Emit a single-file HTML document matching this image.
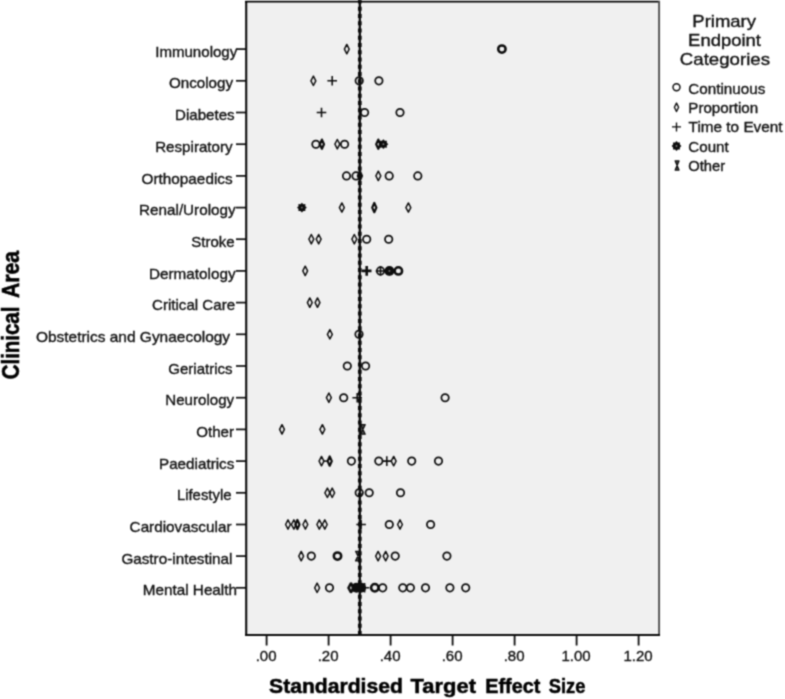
<!DOCTYPE html>
<html lang="en"><head><meta charset="utf-8"><title>Standardised Target Effect Size by Clinical Area</title>
<style>html,body{margin:0;padding:0;background:#fff}svg{display:block}text{font-family:"Liberation Sans",Arial,sans-serif;fill:#111;stroke:#111;stroke-width:0.35px}</style></head><body>
<svg width="785" height="699" viewBox="0 0 785 699">
<defs><filter id="soft" filterUnits="userSpaceOnUse" x="-10" y="-10" width="805" height="719" color-interpolation-filters="sRGB"><feConvolveMatrix order="3" kernelMatrix="0.13 0.36 0.13 0.36 1 0.36 0.13 0.36 0.13" divisor="2.96" edgeMode="duplicate" preserveAlpha="true"/></filter></defs>
<g filter="url(#soft)">
<rect x="-10" y="-10" width="805" height="719" fill="#fff"/>
<rect x="246.2" y="1.5" width="412.8" height="633.5" fill="#f0f0f0"/>
<path d="M246.2 0.9V636" stroke="#0d0d0d" stroke-width="2.1" fill="none"/>
<path d="M245 1.55H660" stroke="#000" stroke-width="1.7" fill="none"/>
<path d="M659.1 1V636" stroke="#505050" stroke-width="1.9" fill="none"/>
<path d="M245 635H660" stroke="#0d0d0d" stroke-width="2.1" fill="none"/>
<path d="M359.8 2V634" stroke="#0a0a0a" stroke-width="2.3" fill="none"/>
<path d="M359.8 -0.56V634" stroke="#0a0a0a" stroke-width="3.7" stroke-dasharray="4.0 3.26" fill="none"/>
<path d="M266.6 636V645.5" stroke="#0d0d0d" stroke-width="1.8" fill="none"/>
<text x="266.1" y="661.4" font-size="15" text-anchor="middle">.00</text>
<path d="M328.6 636V645.5" stroke="#0d0d0d" stroke-width="1.8" fill="none"/>
<text x="328.1" y="661.4" font-size="15" text-anchor="middle">.20</text>
<path d="M390.6 636V645.5" stroke="#0d0d0d" stroke-width="1.8" fill="none"/>
<text x="390.1" y="661.4" font-size="15" text-anchor="middle">.40</text>
<path d="M452.6 636V645.5" stroke="#0d0d0d" stroke-width="1.8" fill="none"/>
<text x="452.1" y="661.4" font-size="15" text-anchor="middle">.60</text>
<path d="M514.6 636V645.5" stroke="#0d0d0d" stroke-width="1.8" fill="none"/>
<text x="514.1" y="661.4" font-size="15" text-anchor="middle">.80</text>
<path d="M576.6 636V645.5" stroke="#0d0d0d" stroke-width="1.8" fill="none"/>
<text x="576.1" y="661.4" font-size="15" text-anchor="middle">1.00</text>
<path d="M638.6 636V645.5" stroke="#0d0d0d" stroke-width="1.8" fill="none"/>
<text x="638.1" y="661.4" font-size="15" text-anchor="middle">1.20</text>
<path d="M236 49.1H246" stroke="#0d0d0d" stroke-width="1.7" fill="none"/>
<text x="155.2" y="56.7" font-size="15" textLength="82.1" lengthAdjust="spacingAndGlyphs">Immunology</text>
<path d="M236 80.8H246" stroke="#0d0d0d" stroke-width="1.7" fill="none"/>
<text x="168.9" y="88.4" font-size="15" textLength="64.1" lengthAdjust="spacingAndGlyphs">Oncology</text>
<path d="M236 112.5H246" stroke="#0d0d0d" stroke-width="1.7" fill="none"/>
<text x="175.0" y="120.1" font-size="15" textLength="59.6" lengthAdjust="spacingAndGlyphs">Diabetes</text>
<path d="M236 144.2H246" stroke="#0d0d0d" stroke-width="1.7" fill="none"/>
<text x="155.2" y="151.8" font-size="15" textLength="77.4" lengthAdjust="spacingAndGlyphs">Respiratory</text>
<path d="M236 175.9H246" stroke="#0d0d0d" stroke-width="1.7" fill="none"/>
<text x="141.6" y="183.5" font-size="15" textLength="91.0" lengthAdjust="spacingAndGlyphs">Orthopaedics</text>
<path d="M236 207.6H246" stroke="#0d0d0d" stroke-width="1.7" fill="none"/>
<text x="139.1" y="215.2" font-size="15" textLength="96.5" lengthAdjust="spacingAndGlyphs">Renal/Urology</text>
<path d="M236 239.2H246" stroke="#0d0d0d" stroke-width="1.7" fill="none"/>
<text x="191.3" y="246.8" font-size="15" textLength="43.3" lengthAdjust="spacingAndGlyphs">Stroke</text>
<path d="M236 270.9H246" stroke="#0d0d0d" stroke-width="1.7" fill="none"/>
<text x="149.0" y="278.5" font-size="15" textLength="86.6" lengthAdjust="spacingAndGlyphs">Dermatology</text>
<path d="M236 302.6H246" stroke="#0d0d0d" stroke-width="1.7" fill="none"/>
<text x="152.0" y="310.2" font-size="15" textLength="83.1" lengthAdjust="spacingAndGlyphs">Critical Care</text>
<path d="M236 334.3H246" stroke="#0d0d0d" stroke-width="1.7" fill="none"/>
<text x="35.9" y="341.9" font-size="15" textLength="194.2" lengthAdjust="spacingAndGlyphs">Obstetrics and Gynaecology</text>
<path d="M236 366.0H246" stroke="#0d0d0d" stroke-width="1.7" fill="none"/>
<text x="168.3" y="373.6" font-size="15" textLength="64.2" lengthAdjust="spacingAndGlyphs">Geriatrics</text>
<path d="M236 397.7H246" stroke="#0d0d0d" stroke-width="1.7" fill="none"/>
<text x="165.3" y="405.3" font-size="15" textLength="68.8" lengthAdjust="spacingAndGlyphs">Neurology</text>
<path d="M236 429.4H246" stroke="#0d0d0d" stroke-width="1.7" fill="none"/>
<text x="196.2" y="437.0" font-size="15" textLength="37.8" lengthAdjust="spacingAndGlyphs">Other</text>
<path d="M236 461.1H246" stroke="#0d0d0d" stroke-width="1.7" fill="none"/>
<text x="159.0" y="468.7" font-size="15" textLength="75.3" lengthAdjust="spacingAndGlyphs">Paediatrics</text>
<path d="M236 492.8H246" stroke="#0d0d0d" stroke-width="1.7" fill="none"/>
<text x="176.9" y="500.4" font-size="15" textLength="54.6" lengthAdjust="spacingAndGlyphs">Lifestyle</text>
<path d="M236 524.5H246" stroke="#0d0d0d" stroke-width="1.7" fill="none"/>
<text x="129.6" y="532.1" font-size="15" textLength="101.9" lengthAdjust="spacingAndGlyphs">Cardiovascular</text>
<path d="M236 556.1H246" stroke="#0d0d0d" stroke-width="1.7" fill="none"/>
<text x="121.4" y="563.7" font-size="15" textLength="111.1" lengthAdjust="spacingAndGlyphs">Gastro-intestinal</text>
<path d="M236 587.8H246" stroke="#0d0d0d" stroke-width="1.7" fill="none"/>
<text x="142.8" y="595.4" font-size="15" textLength="94.2" lengthAdjust="spacingAndGlyphs">Mental Health</text>
<path d="M346.8 44.4L349.2 49.1L346.8 53.8L344.4 49.1Z" fill="none" stroke="#0d0d0d" stroke-width="1.45" stroke-linejoin="round"/>
<circle cx="501.9" cy="49.1" r="3.7" fill="none" stroke="#0d0d0d" stroke-width="2.5"/>
<path d="M313.4 76.1L315.8 80.8L313.4 85.5L310.9 80.8Z" fill="none" stroke="#0d0d0d" stroke-width="1.45" stroke-linejoin="round"/>
<path d="M327.4 80.8H337.0M332.2 76.0V85.6" fill="none" stroke="#0d0d0d" stroke-width="1.55"/>
<circle cx="359.2" cy="80.8" r="3.7" fill="none" stroke="#0d0d0d" stroke-width="1.75"/>
<circle cx="378.9" cy="80.8" r="3.7" fill="none" stroke="#0d0d0d" stroke-width="1.75"/>
<path d="M316.7 112.5H326.3M321.5 107.7V117.3" fill="none" stroke="#0d0d0d" stroke-width="1.55"/>
<circle cx="364.6" cy="112.5" r="3.7" fill="none" stroke="#0d0d0d" stroke-width="1.75"/>
<circle cx="400.0" cy="112.5" r="3.7" fill="none" stroke="#0d0d0d" stroke-width="1.75"/>
<circle cx="315.9" cy="144.2" r="3.7" fill="none" stroke="#0d0d0d" stroke-width="1.75"/>
<path d="M321.9 139.6L324.0 144.2L321.9 148.8L319.8 144.2Z" fill="none" stroke="#0d0d0d" stroke-width="2.2" stroke-linejoin="round"/>
<path d="M337.3 139.5L339.8 144.2L337.3 148.9L334.9 144.2Z" fill="none" stroke="#0d0d0d" stroke-width="1.45" stroke-linejoin="round"/>
<circle cx="344.6" cy="144.2" r="3.7" fill="none" stroke="#0d0d0d" stroke-width="1.75"/>
<path d="M378.3 139.6L380.4 144.2L378.3 148.8L376.2 144.2Z" fill="none" stroke="#0d0d0d" stroke-width="2.2" stroke-linejoin="round"/>
<polygon points="388.30,144.17 386.82,145.59 386.86,147.63 384.82,147.59 383.40,149.07 381.98,147.59 379.94,147.63 379.98,145.59 378.50,144.17 379.98,142.75 379.94,140.71 381.98,140.75 383.40,139.27 384.82,140.75 386.86,140.71 386.82,142.75" fill="#0d0d0d"/><circle cx="383.4" cy="144.2" r="0.9" fill="#808080"/>
<circle cx="346.5" cy="175.9" r="3.7" fill="none" stroke="#0d0d0d" stroke-width="1.75"/>
<circle cx="356.0" cy="175.9" r="3.7" fill="none" stroke="#0d0d0d" stroke-width="1.75"/>
<path d="M359.9 171.3L362.0 175.9L359.9 180.5L357.8 175.9Z" fill="none" stroke="#0d0d0d" stroke-width="2.2" stroke-linejoin="round"/>
<path d="M378.3 171.2L380.8 175.9L378.3 180.6L375.9 175.9Z" fill="none" stroke="#0d0d0d" stroke-width="1.45" stroke-linejoin="round"/>
<circle cx="389.2" cy="175.9" r="3.7" fill="none" stroke="#0d0d0d" stroke-width="1.75"/>
<circle cx="417.8" cy="175.9" r="3.7" fill="none" stroke="#0d0d0d" stroke-width="1.75"/>
<polygon points="306.80,207.55 305.32,208.97 305.36,211.01 303.32,210.97 301.90,212.45 300.48,210.97 298.44,211.01 298.48,208.97 297.00,207.55 298.48,206.13 298.44,204.09 300.48,204.13 301.90,202.65 303.32,204.13 305.36,204.09 305.32,206.13" fill="#0d0d0d"/><circle cx="301.9" cy="207.6" r="0.9" fill="#808080"/>
<path d="M341.9 202.9L344.3 207.6L341.9 212.2L339.4 207.6Z" fill="none" stroke="#0d0d0d" stroke-width="1.45" stroke-linejoin="round"/>
<path d="M374.3 203.0L376.4 207.6L374.3 212.2L372.2 207.6Z" fill="none" stroke="#0d0d0d" stroke-width="2.2" stroke-linejoin="round"/>
<path d="M408.4 202.9L410.8 207.6L408.4 212.2L405.9 207.6Z" fill="none" stroke="#0d0d0d" stroke-width="1.45" stroke-linejoin="round"/>
<path d="M311.3 234.5L313.8 239.2L311.3 243.9L308.9 239.2Z" fill="none" stroke="#0d0d0d" stroke-width="1.45" stroke-linejoin="round"/>
<path d="M318.7 234.5L321.1 239.2L318.7 243.9L316.2 239.2Z" fill="none" stroke="#0d0d0d" stroke-width="1.45" stroke-linejoin="round"/>
<path d="M354.3 234.5L356.8 239.2L354.3 243.9L351.9 239.2Z" fill="none" stroke="#0d0d0d" stroke-width="1.45" stroke-linejoin="round"/>
<circle cx="366.7" cy="239.2" r="3.7" fill="none" stroke="#0d0d0d" stroke-width="1.75"/>
<circle cx="388.7" cy="239.2" r="3.7" fill="none" stroke="#0d0d0d" stroke-width="1.75"/>
<path d="M305.2 266.2L307.6 270.9L305.2 275.6L302.8 270.9Z" fill="none" stroke="#0d0d0d" stroke-width="1.45" stroke-linejoin="round"/>
<path d="M361.9 270.9H371.5M366.7 266.1V275.7" fill="none" stroke="#0d0d0d" stroke-width="2.6"/>
<circle cx="380.5" cy="270.9" r="3.7" fill="none" stroke="#0d0d0d" stroke-width="1.75"/>
<path d="M375.7 270.9H385.3M380.5 266.1V275.7" fill="none" stroke="#0d0d0d" stroke-width="1.55"/>
<circle cx="389.4" cy="270.9" r="3.7" fill="none" stroke="#0d0d0d" stroke-width="2.5"/>
<polygon points="394.30,270.93 392.82,272.35 392.86,274.39 390.82,274.35 389.40,275.83 387.98,274.35 385.94,274.39 385.98,272.35 384.50,270.93 385.98,269.51 385.94,267.47 387.98,267.51 389.40,266.03 390.82,267.51 392.86,267.47 392.82,269.51" fill="#0d0d0d"/><circle cx="389.4" cy="270.9" r="0.9" fill="#808080"/>
<circle cx="398.4" cy="270.9" r="3.7" fill="none" stroke="#0d0d0d" stroke-width="2.5"/>
<path d="M309.8 297.9L312.2 302.6L309.8 307.3L307.4 302.6Z" fill="none" stroke="#0d0d0d" stroke-width="1.45" stroke-linejoin="round"/>
<path d="M317.5 297.9L319.9 302.6L317.5 307.3L315.1 302.6Z" fill="none" stroke="#0d0d0d" stroke-width="1.45" stroke-linejoin="round"/>
<path d="M329.9 329.6L332.3 334.3L329.9 339.0L327.4 334.3Z" fill="none" stroke="#0d0d0d" stroke-width="1.45" stroke-linejoin="round"/>
<circle cx="359.0" cy="334.3" r="3.7" fill="none" stroke="#0d0d0d" stroke-width="1.75"/>
<circle cx="347.3" cy="366.0" r="3.7" fill="none" stroke="#0d0d0d" stroke-width="1.75"/>
<circle cx="365.6" cy="366.0" r="3.7" fill="none" stroke="#0d0d0d" stroke-width="1.75"/>
<path d="M328.9 393.0L331.3 397.7L328.9 402.4L326.4 397.7Z" fill="none" stroke="#0d0d0d" stroke-width="1.45" stroke-linejoin="round"/>
<circle cx="343.7" cy="397.7" r="3.7" fill="none" stroke="#0d0d0d" stroke-width="1.75"/>
<path d="M352.4 397.7H362.0M357.2 392.9V402.5" fill="none" stroke="#0d0d0d" stroke-width="1.55"/>
<circle cx="445.1" cy="397.7" r="3.7" fill="none" stroke="#0d0d0d" stroke-width="1.75"/>
<path d="M282.0 424.7L284.4 429.4L282.0 434.1L279.6 429.4Z" fill="none" stroke="#0d0d0d" stroke-width="1.45" stroke-linejoin="round"/>
<path d="M322.4 424.7L324.8 429.4L322.4 434.1L319.9 429.4Z" fill="none" stroke="#0d0d0d" stroke-width="1.45" stroke-linejoin="round"/>
<path d="M360.6 424.6H365.2L360.6 434.2H365.2Z" fill="#0d0d0d" fill-opacity="0.65" stroke="#0d0d0d" stroke-width="1.3" stroke-linejoin="round"/>
<path d="M321.5 456.4L323.9 461.1L321.5 465.8L319.1 461.1Z" fill="none" stroke="#0d0d0d" stroke-width="1.45" stroke-linejoin="round"/>
<path d="M329.7 456.5L331.8 461.1L329.7 465.7L327.6 461.1Z" fill="none" stroke="#0d0d0d" stroke-width="2.2" stroke-linejoin="round"/>
<path d="M323.9 461.1H327.7" stroke="#0d0d0d" stroke-width="1.5" fill="none"/>
<circle cx="351.4" cy="461.1" r="3.7" fill="none" stroke="#0d0d0d" stroke-width="1.75"/>
<circle cx="378.8" cy="461.1" r="3.7" fill="none" stroke="#0d0d0d" stroke-width="1.75"/>
<path d="M382.0 461.1H391.6M386.8 456.3V465.9" fill="none" stroke="#0d0d0d" stroke-width="1.55"/>
<path d="M393.7 456.4L396.1 461.1L393.7 465.8L391.2 461.1Z" fill="none" stroke="#0d0d0d" stroke-width="1.45" stroke-linejoin="round"/>
<circle cx="411.7" cy="461.1" r="3.7" fill="none" stroke="#0d0d0d" stroke-width="1.75"/>
<circle cx="438.5" cy="461.1" r="3.7" fill="none" stroke="#0d0d0d" stroke-width="1.75"/>
<path d="M327.4 488.1L329.8 492.8L327.4 497.5L324.9 492.8Z" fill="none" stroke="#0d0d0d" stroke-width="1.45" stroke-linejoin="round"/>
<path d="M332.2 488.1L334.6 492.8L332.2 497.5L329.8 492.8Z" fill="none" stroke="#0d0d0d" stroke-width="1.45" stroke-linejoin="round"/>
<circle cx="359.2" cy="492.8" r="3.7" fill="none" stroke="#0d0d0d" stroke-width="1.75"/>
<circle cx="369.2" cy="492.8" r="3.7" fill="none" stroke="#0d0d0d" stroke-width="1.75"/>
<circle cx="400.5" cy="492.8" r="3.7" fill="none" stroke="#0d0d0d" stroke-width="1.75"/>
<path d="M288.0 519.8L290.4 524.5L288.0 529.2L285.6 524.5Z" fill="none" stroke="#0d0d0d" stroke-width="1.45" stroke-linejoin="round"/>
<path d="M293.9 519.8L296.3 524.5L293.9 529.2L291.4 524.5Z" fill="none" stroke="#0d0d0d" stroke-width="1.45" stroke-linejoin="round"/>
<path d="M297.4 519.9L299.5 524.5L297.4 529.1L295.3 524.5Z" fill="none" stroke="#0d0d0d" stroke-width="2.2" stroke-linejoin="round"/>
<path d="M305.4 519.8L307.8 524.5L305.4 529.2L302.9 524.5Z" fill="none" stroke="#0d0d0d" stroke-width="1.45" stroke-linejoin="round"/>
<path d="M319.3 519.8L321.8 524.5L319.3 529.2L316.9 524.5Z" fill="none" stroke="#0d0d0d" stroke-width="1.45" stroke-linejoin="round"/>
<path d="M324.8 519.8L327.2 524.5L324.8 529.2L322.4 524.5Z" fill="none" stroke="#0d0d0d" stroke-width="1.45" stroke-linejoin="round"/>
<path d="M356.3 524.5H365.9M361.1 519.7V529.2" fill="none" stroke="#0d0d0d" stroke-width="1.55"/>
<circle cx="389.3" cy="524.5" r="3.7" fill="none" stroke="#0d0d0d" stroke-width="1.75"/>
<path d="M400.0 519.8L402.4 524.5L400.0 529.2L397.6 524.5Z" fill="none" stroke="#0d0d0d" stroke-width="1.45" stroke-linejoin="round"/>
<circle cx="430.6" cy="524.5" r="3.7" fill="none" stroke="#0d0d0d" stroke-width="1.75"/>
<path d="M301.2 551.4L303.6 556.1L301.2 560.8L298.8 556.1Z" fill="none" stroke="#0d0d0d" stroke-width="1.45" stroke-linejoin="round"/>
<circle cx="311.3" cy="556.1" r="3.7" fill="none" stroke="#0d0d0d" stroke-width="1.75"/>
<circle cx="337.5" cy="556.1" r="3.7" fill="none" stroke="#0d0d0d" stroke-width="2.5"/>
<path d="M355.6 551.3H360.2L355.6 560.9H360.2Z" fill="#0d0d0d" fill-opacity="0.65" stroke="#0d0d0d" stroke-width="1.3" stroke-linejoin="round"/>
<path d="M378.1 551.4L380.6 556.1L378.1 560.8L375.7 556.1Z" fill="none" stroke="#0d0d0d" stroke-width="1.45" stroke-linejoin="round"/>
<path d="M385.7 551.4L388.1 556.1L385.7 560.8L383.2 556.1Z" fill="none" stroke="#0d0d0d" stroke-width="1.45" stroke-linejoin="round"/>
<circle cx="395.2" cy="556.1" r="3.7" fill="none" stroke="#0d0d0d" stroke-width="1.75"/>
<circle cx="446.9" cy="556.1" r="3.7" fill="none" stroke="#0d0d0d" stroke-width="1.75"/>
<path d="M317.1 583.1L319.6 587.8L317.1 592.5L314.7 587.8Z" fill="none" stroke="#0d0d0d" stroke-width="1.45" stroke-linejoin="round"/>
<circle cx="329.5" cy="587.8" r="3.7" fill="none" stroke="#0d0d0d" stroke-width="1.75"/>
<path d="M350.4 583.1L352.8 587.8L350.4 592.5L347.9 587.8Z" fill="none" stroke="#0d0d0d" stroke-width="1.45" stroke-linejoin="round"/>
<path d="M351.6 583.1L354.1 587.8L351.6 592.5L349.2 587.8Z" fill="none" stroke="#0d0d0d" stroke-width="1.45" stroke-linejoin="round"/>
<circle cx="356.5" cy="587.8" r="3.7" fill="none" stroke="#0d0d0d" stroke-width="2.5"/>
<circle cx="361.0" cy="587.8" r="3.7" fill="none" stroke="#0d0d0d" stroke-width="2.5"/>
<path d="M359.8 587.8H369.4M364.6 583.0V592.6" fill="none" stroke="#0d0d0d" stroke-width="1.55"/>
<circle cx="374.8" cy="587.8" r="3.7" fill="none" stroke="#0d0d0d" stroke-width="2.5"/>
<circle cx="382.7" cy="587.8" r="3.7" fill="none" stroke="#0d0d0d" stroke-width="1.75"/>
<circle cx="402.8" cy="587.8" r="3.7" fill="none" stroke="#0d0d0d" stroke-width="1.75"/>
<circle cx="410.4" cy="587.8" r="3.7" fill="none" stroke="#0d0d0d" stroke-width="1.75"/>
<circle cx="425.5" cy="587.8" r="3.7" fill="none" stroke="#0d0d0d" stroke-width="1.75"/>
<circle cx="449.9" cy="587.8" r="3.7" fill="none" stroke="#0d0d0d" stroke-width="1.75"/>
<circle cx="465.7" cy="587.8" r="3.7" fill="none" stroke="#0d0d0d" stroke-width="1.75"/>
<rect x="353" y="583.5" width="12.2" height="8.6" rx="1.5" fill="#0d0d0d"/>
<text x="269.1" y="692.7" font-size="20.4" font-weight="bold" style="fill:#000;stroke:#000;stroke-width:0.5px" lengthAdjust="spacingAndGlyphs" textLength="133.8">Standardised</text>
<text x="410.6" y="692.7" font-size="20.4" font-weight="bold" style="fill:#000;stroke:#000;stroke-width:0.5px" lengthAdjust="spacingAndGlyphs" textLength="65.4">Target</text>
<text x="485.3" y="692.7" font-size="20.4" font-weight="bold" style="fill:#000;stroke:#000;stroke-width:0.5px" lengthAdjust="spacingAndGlyphs" textLength="55.0">Effect</text>
<text x="548.7" y="692.7" font-size="20.4" font-weight="bold" style="fill:#000;stroke:#000;stroke-width:0.5px" lengthAdjust="spacingAndGlyphs" textLength="36.7">Size</text>
<g transform="translate(19.4 0) rotate(-90) scale(1 1.15)">
<text x="-379.2" y="0" font-size="21.1" font-weight="bold" style="fill:#000;stroke:#000;stroke-width:0.5px" lengthAdjust="spacingAndGlyphs" textLength="72.5">Clinical</text>
<text x="-298.1" y="0" font-size="21.1" font-weight="bold" style="fill:#000;stroke:#000;stroke-width:0.5px" lengthAdjust="spacingAndGlyphs" textLength="47.1">Area</text>
</g>
<text x="692.3" y="26.5" font-size="17" textLength="63.7" lengthAdjust="spacingAndGlyphs">Primary</text>
<text x="688.1" y="46.4" font-size="17" textLength="72.9" lengthAdjust="spacingAndGlyphs">Endpoint</text>
<text x="679.8" y="64.9" font-size="17" textLength="90.2" lengthAdjust="spacingAndGlyphs">Categories</text>
<circle cx="676.5" cy="87.3" r="3.5" fill="none" stroke="#0d0d0d" stroke-width="1.45"/>
<text x="688.3" y="93.6" font-size="15" textLength="77.0" lengthAdjust="spacingAndGlyphs">Continuous</text>
<path d="M676.5 103.1L678.6 107.3L676.5 111.5L674.4 107.3Z" fill="none" stroke="#0d0d0d" stroke-width="1.4" stroke-linejoin="round"/>
<text x="688.3" y="112.8" font-size="15" textLength="69.8" lengthAdjust="spacingAndGlyphs">Proportion</text>
<path d="M672.0 126.9H681.0M676.5 122.4V131.4" fill="none" stroke="#0d0d0d" stroke-width="1.35"/>
<text x="688.6" y="132.1" font-size="15" textLength="94.0" lengthAdjust="spacingAndGlyphs">Time to Event</text>
<polygon points="681.40,146.00 679.92,147.42 679.96,149.46 677.92,149.42 676.50,150.90 675.08,149.42 673.04,149.46 673.08,147.42 671.60,146.00 673.08,144.58 673.04,142.54 675.08,142.58 676.50,141.10 677.92,142.58 679.96,142.54 679.92,144.58" fill="#0d0d0d"/><circle cx="676.5" cy="146.0" r="0.9" fill="#808080"/>
<text x="688.3" y="151.8" font-size="15" textLength="40.4" lengthAdjust="spacingAndGlyphs">Count</text>
<path d="M675.2 160.9H679.0L675.2 170.1H679.0Z" fill="#0d0d0d" fill-opacity="0.7" stroke="#0d0d0d" stroke-width="1.3" stroke-linejoin="round"/>
<text x="688.3" y="171.0" font-size="15" textLength="36.9" lengthAdjust="spacingAndGlyphs">Other</text>
</g></svg></body></html>
